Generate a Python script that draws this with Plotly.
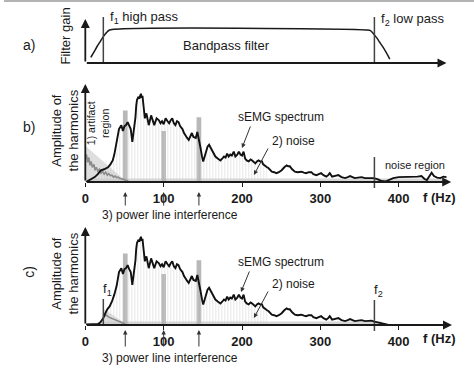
import numpy as np
import plotly.graph_objects as go

W, H = 474, 377
FONT = "Arial, 'Liberation Sans', Helvetica, sans-serif"
INK = "#1a1a1a"

# ---------------- data ----------------
# a) filter gain curve
filter_freq = [7, 11, 15, 19, 23, 27, 31, 360, 364, 368, 372, 376, 380, 384, 388.6]
filter_gain = [0.17, 0.33, 0.5, 0.65, 0.8, 0.92, 1.0, 1.0, 0.98, 0.88, 0.76, 0.62, 0.48, 0.32, 0.12]
f1_hz = 23
f2_hz = 369

# sEMG spectrum (shared middle part 40..365 Hz)
mid_freq = [40, 43, 46, 48, 50, 52, 54, 56, 58, 60, 62, 64, 65, 66, 68, 69, 70, 71, 72, 73, 74, 75, 76, 78, 81, 84, 86, 88,
            91, 94, 96, 98, 100, 102.5, 105, 107, 109, 111, 113, 115, 117, 119, 121, 124, 126, 128, 130,
            132, 134, 136, 138, 141, 143, 145, 147, 149, 150.5, 152, 154, 156, 158, 160, 162, 164, 166,
            169, 172.5, 175, 177, 179, 181, 183, 185, 187, 189.5, 191.5, 194, 196, 198, 200, 202, 204,
            206, 208.5, 211, 213, 215, 217, 219, 221, 223, 225.5, 227, 229.5, 232, 234, 236, 238, 241,
            244, 247, 250.6, 254, 257, 259, 261, 264, 267.5, 271, 276, 279, 282, 285, 288.6, 291, 295,
            298, 301, 304, 307.6, 310, 312, 315, 318, 323, 327, 331.6, 335, 338, 341, 344, 348, 352.7,
            357, 361, 365]
mid_amp = [40, 54, 58, 52, 57, 58, 61, 57, 54, 41, 52, 66, 78, 84, 87, 85, 88, 90, 86, 88, 80, 72, 65, 70, 58, 68, 62, 58,
           65, 63, 60, 62, 59, 65, 62, 60, 63, 65, 60, 58, 62, 61, 57, 54, 50, 47, 45,
           43, 47, 50, 46, 45, 51, 41, 35, 26, 21, 25, 32, 36, 38, 35, 33, 29, 26,
           24, 22, 24, 26, 25, 29, 26, 28, 27, 31, 26, 28, 31, 28, 27, 31, 24,
           22, 21, 23, 22, 20, 19, 21, 22, 21, 21, 18, 16, 15, 14, 12, 10.5, 10,
           9, 10, 12, 15, 17, 16, 16, 13, 10.5, 10, 10.5, 9.5, 9, 10, 10, 8, 7,
           8, 9, 7, 5.5, 7, 9, 5.5, 6, 7, 5, 4, 5, 6, 5, 4, 4.5, 5,
           4, 4, 4.5]

b_low_freq = [1, 5, 9, 12, 16, 20, 24, 27, 29, 32, 35, 37]
b_low_amp = [0, 2, 4, 5, 8, 12, 13, 14, 15, 18, 22, 28]
b_high_freq = [368, 373, 378, 383, 388, 393, 400, 408, 416, 424, 429, 433, 436, 439, 442, 445, 449, 453, 457, 461]
b_high_amp = [4, 3, 1, 0.5, 2, 4, 5, 5, 5, 5.5, 6, 3, 2, 6, 9.5, 6, 4.5, 4, 5.5, 5]

c_low_freq = [1, 10, 16, 19, 21, 23, 25, 28, 31, 34, 37]
c_low_amp = [0.5, 0.5, 1, 2.5, 5, 7, 11, 16, 19, 24, 31]
c_high_freq = [369, 374, 378, 382, 386]
c_high_amp = [3.5, 2.5, 1.5, 0.8, 0.3]

# power line interference bars
powerline_freq = [51, 100, 145]
powerline_amp = [73, 52, 66]

# artifact region
artifact_b_freq = [0, 1.5, 3, 4.5, 6, 7.5, 9, 11, 12.5, 14, 16, 18, 20, 22, 24, 26, 28, 30, 32, 34, 36,
                   38, 40, 42, 44, 46, 48, 50, 52, 55]
artifact_b_amp = [24, 28, 20, 25, 17, 21, 15, 18, 12, 15, 11, 13, 9, 11, 8, 10, 7, 8.5, 6.5, 7, 5,
                  6, 4.5, 5, 3.5, 3.5, 2.5, 2.5, 1.5, 1]
artifact_b_zone_freq = [0, 0, 53]
artifact_b_zone_amp = [0, 37, 0]
artifact_c_freq = [24, 27, 30, 33, 36, 39, 42, 45, 48, 51]
artifact_c_amp = [9, 10, 8, 7, 6, 5, 4, 3, 2, 1]
artifact_c_zone_freq = [24, 24, 54]
artifact_c_zone_amp = [0, 16, 0]

noise_band_b = [0, 462]
noise_band_c = [20, 378]
noise_level = 3.5
harmonic_span_b = [18, 232]
harmonic_span_c = [26, 232]

x_tick_values = [0, 100, 200, 300, 400]

# ---------------- helpers ----------------
def X(px):
    return px / W

def Y(py):
    return 1 - py / H

b_freq = np.array(b_low_freq + mid_freq + b_high_freq)
b_amp = np.array(b_low_amp + mid_amp + b_high_amp)
c_freq = np.array(c_low_freq + mid_freq + c_high_freq)
c_amp = np.array(c_low_amp + mid_amp + c_high_amp)

fig = go.Figure()

# ---------- panel a ----------
fig.add_trace(go.Scatter(x=filter_freq, y=filter_gain, mode="lines", line=dict(color=INK, width=1.5,
                         shape="spline", smoothing=0.6), xaxis="x", yaxis="y", hoverinfo="skip"))

# ---------- panels b, c ----------
def spectrum_panel(freq, amp, span, zone_f, zone_a, art_f, art_a, xa, ya):
    m = (freq >= span[0]) & (freq <= span[1])
    fig.add_trace(go.Scatter(x=freq[m], y=amp[m], mode="none", fill="tozeroy",
                             fillcolor="rgba(255,255,255,0)",
                             fillpattern=dict(shape="|", size=3, solidity=0.34, fgcolor="#cfcfcf",
                                              bgcolor="rgba(255,255,255,0)"),
                             xaxis=xa, yaxis=ya, hoverinfo="skip"))
    fig.add_trace(go.Scatter(x=zone_f, y=zone_a, mode="none", fill="toself", fillcolor="rgba(200,200,200,0.6)",
                             xaxis=xa, yaxis=ya, hoverinfo="skip"))
    fig.add_trace(go.Bar(x=powerline_freq, y=powerline_amp, width=6, marker=dict(color="rgba(172,172,172,0.85)",
                         line=dict(width=0)), xaxis=xa, yaxis=ya, hoverinfo="skip"))
    fig.add_trace(go.Scatter(x=art_f, y=art_a, mode="lines", line=dict(color="#8a8a8a", width=1.6),
                             xaxis=xa, yaxis=ya, hoverinfo="skip"))
    fig.add_trace(go.Scatter(x=freq, y=amp, mode="lines", line=dict(color="#111111", width=1.9),
                             xaxis=xa, yaxis=ya, hoverinfo="skip"))

spectrum_panel(b_freq, b_amp, harmonic_span_b, artifact_b_zone_freq, artifact_b_zone_amp,
               artifact_b_freq, artifact_b_amp, "x2", "y2")
spectrum_panel(c_freq, c_amp, harmonic_span_c, artifact_c_zone_freq, artifact_c_zone_amp,
               artifact_c_freq, artifact_c_amp, "x3", "y3")

# ---------- axes ----------
def xax(anchor, labels):
    d = dict(domain=[X(82), X(451)], range=[0, 467], anchor=anchor, showgrid=False, zeroline=False,
             showline=False, fixedrange=True)
    if labels:
        d.update(tickmode="array", tickvals=x_tick_values, ticktext=[f"<b>{v}</b>" for v in x_tick_values],
                 ticks="outside", ticklen=4, tickwidth=1.2, tickcolor=INK,
                 tickfont=dict(size=13, color=INK, family=FONT))
    else:
        d.update(showticklabels=False, ticks="")
    return d

def yax(anchor, top, bottom, rng):
    return dict(domain=[Y(bottom), Y(top)], range=rng, anchor=anchor, showgrid=False, zeroline=False,
                showline=False, showticklabels=False, ticks="", fixedrange=True)

fig.update_layout(
    width=W, height=H, margin=dict(l=0, r=0, t=0, b=0),
    paper_bgcolor="white", plot_bgcolor="rgba(0,0,0,0)", showlegend=False, barmode="overlay",
    font=dict(family=FONT, color=INK),
    xaxis=xax("y", False), yaxis=yax("x", 15, 63, [0, 48 / 33]),
    xaxis2=xax("y2", True), yaxis2=yax("x2", 84, 182, [0, 100]),
    xaxis3=xax("y3", True), yaxis3=yax("x3", 227, 325, [0, 100]),
)

shapes = []
# top grey rule
shapes.append(dict(type="rect", xref="paper", yref="paper", x0=0, x1=1, y0=Y(2), y1=1,
                   fillcolor="#b3b3b3", line=dict(width=0)))
# noise bands
for band, xa, ya in [(noise_band_b, "x2", "y2"), (noise_band_c, "x3", "y3")]:
    shapes.append(dict(type="rect", xref=xa, yref=ya, x0=band[0], x1=band[1], y0=0, y1=noise_level,
                       fillcolor="#d6d6d6", line=dict(width=0), layer="below"))
# cut-off lines
line_style = dict(color="#444444", width=1.5)
shapes.append(dict(type="line", xref="x", yref="paper", x0=f1_hz, x1=f1_hz, y0=Y(63), y1=Y(17), line=line_style))
shapes.append(dict(type="line", xref="x", yref="paper", x0=f2_hz, x1=f2_hz, y0=Y(63), y1=Y(17), line=line_style))
shapes.append(dict(type="line", xref="x2", yref="paper", x0=f2_hz, x1=f2_hz, y0=Y(188), y1=Y(157), line=line_style))
shapes.append(dict(type="line", xref="x3", yref="paper", x0=f1_hz, x1=f1_hz, y0=Y(325), y1=Y(299), line=line_style))
shapes.append(dict(type="line", xref="x3", yref="paper", x0=f2_hz, x1=f2_hz, y0=Y(331), y1=Y(300), line=line_style))
fig.update_layout(shapes=shapes)

# axis arrows
def axis_arrows(xa, ya, xend, ytop):
    for (x, y) in [(xend, 0), (0, ytop)]:
        fig.add_annotation(x=x, y=y, ax=0, ay=0, xref=xa, yref=ya, axref=xa, ayref=ya, text="",
                           showarrow=True, arrowhead=2, arrowsize=1, arrowwidth=1.8, arrowcolor=INK, standoff=0)

axis_arrows("x", "y", 461, 44 / 33)
axis_arrows("x2", "y2", 467, 100)
axis_arrows("x3", "y3", 468, 100)

# power-line arrows
for f in powerline_freq:
    fig.add_annotation(x=f, y=Y(192), xref="x2", yref="paper", ax=0, ay=15, text="", showarrow=True,
                       arrowhead=2, arrowsize=0.9, arrowwidth=1, arrowcolor="#333333", standoff=0)
    fig.add_annotation(x=f, y=Y(330), xref="x3", yref="paper", ax=0, ay=18, text="", showarrow=True,
                       arrowhead=2, arrowsize=0.9, arrowwidth=1, arrowcolor="#333333", standoff=0)

# pointer arrows
for (tx, ty, sx, sy) in [(240, 148, 249, 125), (252, 175, 267, 147), (239, 292, 248, 270), (252, 318, 267, 290)]:
    fig.add_annotation(x=X(tx), y=Y(ty), xref="paper", yref="paper", ax=sx - tx, ay=sy - ty, text="",
                       showarrow=True, arrowhead=2, arrowsize=0.9, arrowwidth=1, arrowcolor="#333333", standoff=0)

def txt(s, px, py, size=13, angle=0, xanchor="center"):
    fig.add_annotation(x=X(px), y=Y(py), xref="paper", yref="paper", text=s, showarrow=False,
                       textangle=angle, xanchor=xanchor, yanchor="middle",
                       font=dict(size=size, color=INK, family=FONT))

txt("a)", 25, 45, 14)
txt("b)", 25, 127, 14)
txt("c)", 25, 272, 14, -90)
txt("Filter gain", 63, 36, 13, -90)
txt("Amplitude of<br>the harmonics", 62, 130, 13, -90)
txt("Amplitude of<br>the harmonics", 62, 273, 13, -90)
txt("f<sub>1</sub> high pass", 105, 18, 13, xanchor="left")
txt("Bandpass filter", 224, 45, 13)
txt("f<sub>2</sub> low pass", 378, 20, 13, xanchor="left")
txt("1) artifact<br>region", 95, 123, 10.5, -90)
txt("sEMG spectrum", 279, 117, 12)
txt("2) noise", 292, 141, 12)
txt("noise region", 414, 165, 11)
txt("3) power line interference", 167, 215, 12)
txt("<b>f (Hz)</b>", 439, 197, 13)
txt("sEMG spectrum", 279, 262, 12)
txt("2) noise", 292, 284, 12)
txt("3) power line interference", 167, 358, 12)
txt("<b>f (Hz)</b>", 439, 338, 13)
txt("f<sub>1</sub>", 104, 289, 13)
txt("f<sub>2</sub>", 378, 290, 13)

# the page's default body margin would shift the figure; place it at the window's origin
fig.write_html("out.html", config={"displayModeBar": False},
               post_script="document.body.style.margin='0';")
